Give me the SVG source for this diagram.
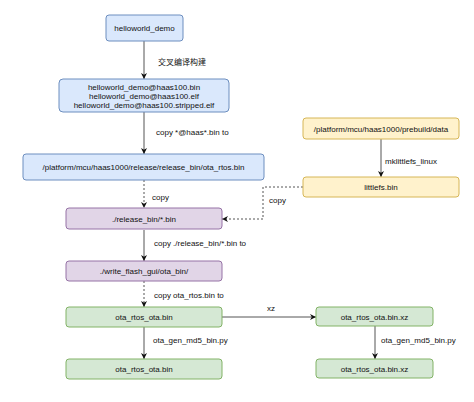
<svg xmlns="http://www.w3.org/2000/svg" width="474" height="402" viewBox="0 0 474 402">
<style>
text{font-family:"Liberation Sans",Arial,"Noto Sans CJK SC",sans-serif;font-size:8px;fill:#111;}
.c{text-anchor:middle;}
.blue{fill:#dae8fc;stroke:#6c8ebf;stroke-width:1;}
.purple{fill:#e1d5e7;stroke:#9673a6;stroke-width:1;}
.green{fill:#d5e8d4;stroke:#82b366;stroke-width:1;}
.yellow{fill:#fff2cc;stroke:#d6b656;stroke-width:1;}
.e{fill:none;stroke:#555;stroke-width:1;}
.d{stroke-dasharray:2,2;}
</style>
<defs>
<marker id="ah" viewBox="0 0 10 10" refX="10" refY="5" markerWidth="6" markerHeight="6" orient="auto" markerUnits="userSpaceOnUse">
<path d="M0,0 L10,5 L0,10 L3,5 z" fill="#111"/>
</marker>
</defs>
<rect width="474" height="402" fill="#fff"/>
<g id="connectors">
<line class="e" x1="144" y1="41" x2="144" y2="79" marker-end="url(#ah)"/>
<text x="158" y="65">交叉编译构建</text>
<line class="e" x1="144" y1="112" x2="144" y2="154" marker-end="url(#ah)"/>
<text x="156" y="135">copy *@haas*.bin to</text>
<line class="e d" x1="144" y1="180" x2="144" y2="208" marker-end="url(#ah)"/>
<text x="152" y="200">copy</text>
<polyline class="e d" points="303,187 263,187 263,219 222,219" marker-end="url(#ah)"/>
<text x="269" y="203">copy</text>
<line class="e" x1="381" y1="139" x2="381" y2="177" marker-end="url(#ah)"/>
<text x="385" y="164">mklittlefs_linux</text>
<line class="e" x1="144" y1="230" x2="144" y2="261" marker-end="url(#ah)"/>
<text x="154" y="246">copy ./release_bin/*.bin to</text>
<line class="e d" x1="144" y1="281" x2="144" y2="307" marker-end="url(#ah)"/>
<text x="154" y="298">copy ota_rtos.bin to</text>
<line class="e" x1="222" y1="317" x2="316" y2="317" marker-end="url(#ah)"/>
<text x="267" y="311">xz</text>
<line class="e" x1="144" y1="327" x2="144" y2="359" marker-end="url(#ah)"/>
<text x="153" y="343">ota_gen_md5_bin.py</text>
<line class="e" x1="375" y1="326" x2="375" y2="359" marker-end="url(#ah)"/>
<text x="381" y="343">ota_gen_md5_bin.py</text>
</g>
<g id="n1"><rect class="blue" x="106" y="15" width="77" height="26" rx="3"/><text class="c" x="144.5" y="31">helloworld_demo</text></g>
<g id="n2"><rect class="blue" x="59" y="79" width="170" height="33" rx="4"/>
<text class="c" x="144" y="90">helloworld_demo@haas100.bin</text>
<text class="c" x="144" y="99">helloworld_demo@haas100.elf</text>
<text class="c" x="144" y="108">helloworld_demo@haas100.stripped.elf</text></g>
<g id="n3"><rect class="blue" x="23" y="154" width="241" height="26" rx="3"/><text class="c" x="143.5" y="170">/platform/mcu/haas1000/release/release_bin/ota_rtos.bin</text></g>
<g id="n4"><rect class="purple" x="66" y="208" width="156" height="21" rx="3"/><text class="c" x="144" y="221.5">./release_bin/*.bin</text></g>
<g id="n5"><rect class="purple" x="66" y="261" width="156" height="20" rx="3"/><text class="c" x="144" y="274">./write_flash_gui/ota_bin/</text></g>
<g id="n6"><rect class="green" x="66" y="307" width="156" height="20" rx="3"/><text class="c" x="144" y="320">ota_rtos_ota.bin</text></g>
<g id="n7"><rect class="green" x="66" y="359" width="156" height="20" rx="3"/><text class="c" x="144" y="372">ota_rtos_ota.bin</text></g>
<g id="n8"><rect class="yellow" x="303" y="118" width="156" height="21" rx="3"/><text class="c" x="381" y="131.5">/platform/mcu/haas1000/prebuild/data</text></g>
<g id="n9"><rect class="yellow" x="303" y="177" width="156" height="20" rx="3"/><text class="c" x="381" y="190">littlefs.bin</text></g>
<g id="n10"><rect class="green" x="316" y="307" width="117" height="19" rx="3"/><text class="c" x="374.5" y="319.5">ota_rtos_ota.bin.xz</text></g>
<g id="n11"><rect class="green" x="316" y="359" width="117" height="19" rx="3"/><text class="c" x="374.5" y="371.5">ota_rtos_ota.bin.xz</text></g>
</svg>
